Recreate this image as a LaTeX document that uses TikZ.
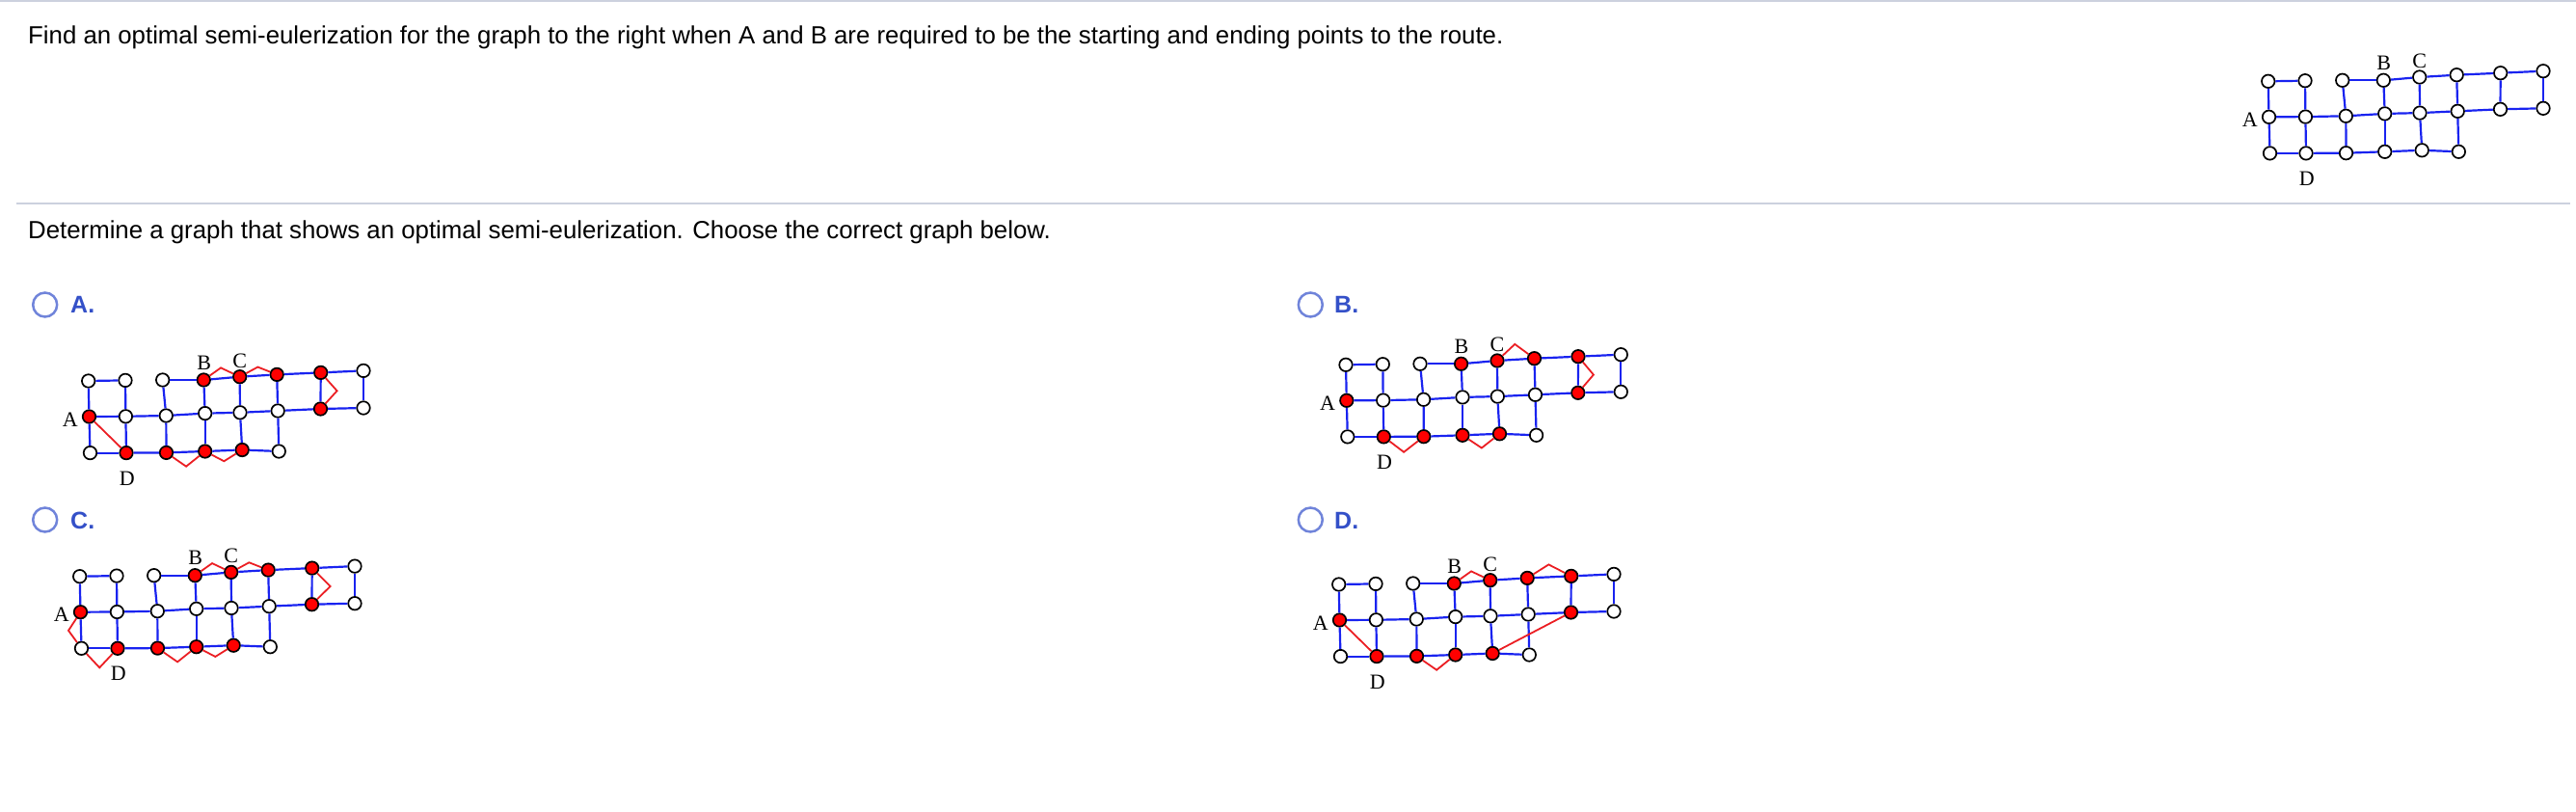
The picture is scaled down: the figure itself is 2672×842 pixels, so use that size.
\documentclass[tikz,border=0pt]{standalone}
\usepackage{fontspec}
\setmainfont{Liberation Sans}
\newfontfamily\timesfont{Liberation Serif}
\usetikzlibrary{calc}
\definecolor{edgeblue}{RGB}{25,35,240}
\definecolor{pathred}{RGB}{235,30,35}
\definecolor{rulegray}{RGB}{204,209,222}
\definecolor{choiceblue}{RGB}{52,80,200}
\definecolor{radioblue}{RGB}{112,132,218}

\begin{document}
\begin{tikzpicture}[x=1pt, y=-1pt,
  vertex/.style={circle, draw=black, line width=1.7pt, minimum size=13.5pt, inner sep=0pt},
  edge/.style={edgeblue, line width=2.2pt},
  extra/.style={pathred, line width=1.8pt},
  bump/.style={to path={-- ($(\tikztostart)!.5!(\tikztotarget)!#1!90:(\tikztotarget)$) -- (\tikztotarget)}},
  letter/.style={font=\timesfont\fontsize{22}{22}\selectfont, inner sep=0pt},
  radio/.style={circle, draw=radioblue, line width=2.5pt, minimum size=25pt, inner sep=0pt},
  choice/.style={anchor=base west, font=\bfseries\fontsize{25}{25}\selectfont, text=choiceblue, inner sep=0pt},
  prompt/.style={anchor=base west, font=\fontsize{25.8}{30}\selectfont, inner sep=0pt},
  rule/.style={rulegray, line width=2pt},
  semigraph/.pic={
    % vertices: t = top row, m = middle row, b = bottom row; #1 fills the odd ones
    \foreach \v/\px/\py/\f in {t0/0/0/white, t1/38.3/-0.6/white, t2/77/-1/white,
        t3/119.6/-1/#1, t4/157/-4.3/#1, t5/195.5/-6.6/#1, t6/241/-8.6/#1, t7/285.3/-10.6/white,
        m0/0.8/37/#1, m1/38.7/36.8/white, m2/80.6/36/white, m3/121/33.6/white,
        m4/157.3/32.8/white, m5/196.5/31/white, m6/240.8/29/#1, m7/285.3/28/white,
        b0/1.8/74.6/white, b1/39.3/74.6/#1, b2/80.8/74.4/#1, b3/121/73/#1,
        b4/159.5/71.5/#1, b5/197.6/73/white}
      \node[vertex, fill=\f] (-\v) at (\px,\py) {};
    % grid edges
    \foreach \a/\b in {t0/t1, t2/t3, t3/t4, t4/t5, t5/t6, t6/t7,
        m0/m1, m1/m2, m2/m3, m3/m4, m4/m5, m5/m6, m6/m7,
        b0/b1, b1/b2, b2/b3, b3/b4, b4/b5,
        t0/m0, t1/m1, t2/m2, t3/m3, t4/m4, t5/m5, t6/m6, t7/m7,
        m0/b0, m1/b1, m2/b2, m3/b3, m4/b4, m5/b5}
      \draw[edge] (-\a) -- (-\b);
    % vertex letters
    \node[letter] (-lA) at (-19,40) {A};
    \node[letter] (-lB) at (120,-19) {B};
    \node[letter] (-lC) at (157,-21) {C};
    \node[letter] (-lD) at (40,101) {D};
  }
]
  \useasboundingbox (0,0) rectangle (2672,842);

  % page frame and question
  \draw[rule, line width=2.5pt] (0,1) -- (2672,1);
  \node[prompt] (question) at (29,46) {Find an optimal semi-eulerization for the graph to the right when A and B are required to be the starting and ending points to the route.};
  \pic (main) at (2352.7,84.3) {semigraph=white};

  \draw[rule] (17,211) -- (2666,211);
  \node[prompt] (task) at (29,248) {Determine a graph that shows an optimal semi-eulerization. Choose the correct graph below.};

  % answer choices
  \node[radio] (radioA) at (46.7,316) {};
  \node[choice] (choiceA) at (73,325) {A.};
  \node[radio] (radioB) at (1359.3,316) {};
  \node[choice] (choiceB) at (1384,325) {B.};
  \node[radio] (radioC) at (46.7,539) {};
  \node[choice] (choiceC) at (73,548) {C.};
  \node[radio] (radioD) at (1359.3,539) {};
  \node[choice] (choiceD) at (1384,548) {D.};

  % graph A
  \pic (pa) at (91.7,395) {semigraph=red};
  \draw[extra] (pa-m0) -- (pa-b1);
  \draw[extra, bump=11pt] (pa-t3) to (pa-t4);
  \draw[extra, bump=9pt] (pa-t4) to (pa-t5);
  \draw[extra, bump=17pt] (pa-t6) to (pa-m6);
  \draw[extra, bump=15pt] (pa-b3) to (pa-b2);
  \draw[extra, bump=11pt] (pa-b4) to (pa-b3);

  % graph B
  \pic (pb) at (1396,378.3) {semigraph=red};
  \draw[extra, bump=16pt] (pb-t4) to (pb-t5);
  \draw[extra, bump=16pt] (pb-t6) to (pb-m6);
  \draw[extra, bump=16pt] (pb-b2) to (pb-b1);
  \draw[extra, bump=14pt] (pb-b4) to (pb-b3);

  % graph C
  \pic (pc) at (82.7,597.7) {semigraph=red};
  \draw[extra, bump=13pt] (pc-b0) to (pc-m0);
  \draw[extra, bump=20pt] (pc-b1) to (pc-b0);
  \draw[extra, bump=11pt] (pc-t3) to (pc-t4);
  \draw[extra, bump=9pt] (pc-t4) to (pc-t5);
  \draw[extra, bump=19pt] (pc-t6) to (pc-m6);
  \draw[extra, bump=15pt] (pc-b3) to (pc-b2);
  \draw[extra, bump=11pt] (pc-b4) to (pc-b3);

  % graph D
  \pic (pd) at (1388.7,606) {semigraph=red};
  \draw[extra] (pd-m0) -- (pd-b1);
  \draw[extra, bump=11pt] (pd-t3) to (pd-t4);
  \draw[extra, bump=13pt] (pd-t5) to (pd-t6);
  \draw[extra] (pd-b4) -- (pd-m6);
  \draw[extra, bump=15pt] (pd-b3) to (pd-b2);
\end{tikzpicture}
\end{document}
